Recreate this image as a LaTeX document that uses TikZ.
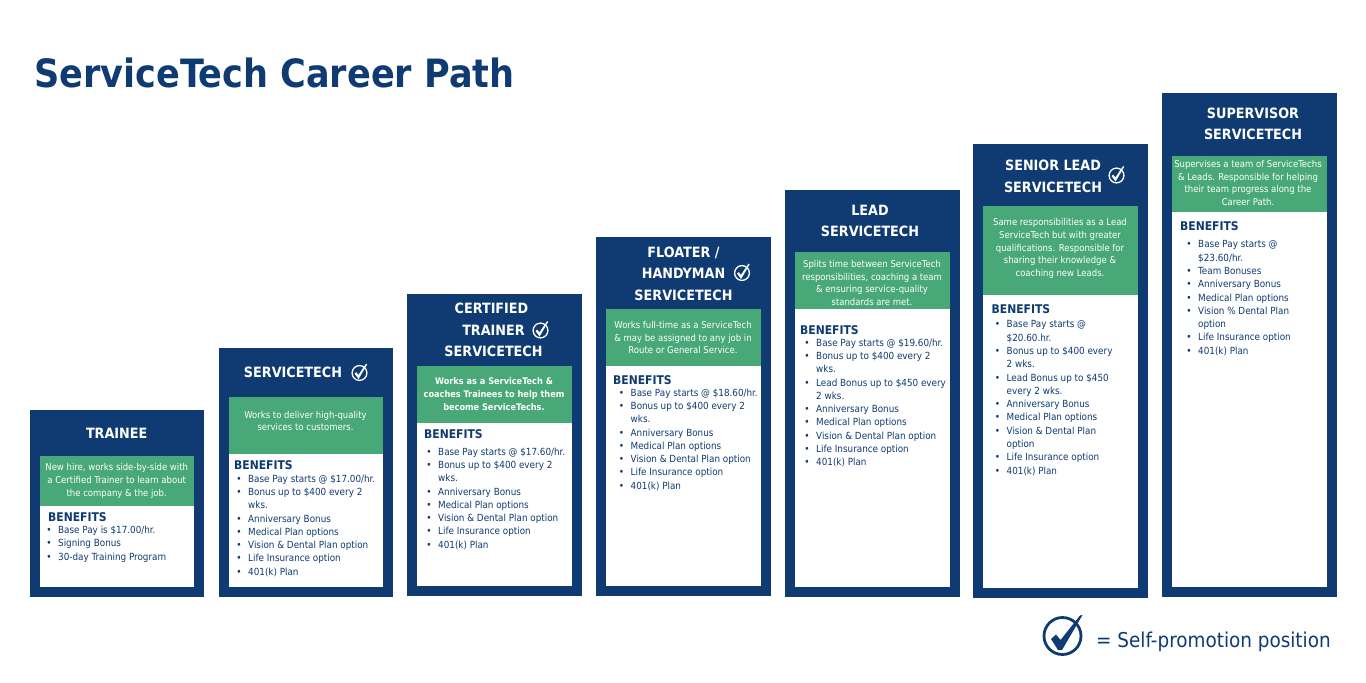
\documentclass[tikz,border=0pt]{standalone}
\usepackage{fontspec}
\setmainfont{DejaVu Sans Condensed}
\definecolor{navy}{HTML}{0F3B72}
\definecolor{leaf}{HTML}{48A878}
\tikzset{
  x=1pt,y=-1pt,
  headtext/.style={inner sep=0pt,text=white,align=center,font=\fontsize{14.2}{21.5}\bfseries\selectfont},
  desctext/.style={inner sep=0pt,text=white,align=center,font=\fontsize{9.45}{12.8}\selectfont},
  bentitle/.style={inner sep=0pt,anchor=west,text=navy,font=\fontsize{12}{14}\bfseries\selectfont},
  listtext/.style={inner sep=0pt,anchor=north west,text=navy,align=left,font=\fontsize{9.8}{13.3}\selectfont},
}
\newcommand{\bitem}[1]{\makebox[0pt][r]{\smash{\fontsize{10}{10}\selectfont\textbullet}\hspace{6.5pt}}#1\\}
\newcommand{\citem}[1]{#1\\}
% name, left x, top y, green top, green bottom, bottom y
\newcommand{\cardbox}[6]{
  \fill[navy] (#2,#3) rectangle ({#2+174.5},#6);
  \fill[white] ({#2+10},#5) rectangle ({#2+164.5},{#6-10});
  \fill[leaf] ({#2+10},#4) rectangle ({#2+164.5},#5);
}
% centre x, centre y
\newcommand{\checkmk}[2]{
  \draw[white,line width=1.3pt] (#1,#2) circle (7.4pt);
  \fill[white] ({#1-5},{#2+.5}) -- ({#1-3.2},{#2-.8}) -- ({#1-1.2},{#2+2}) -- ({#1+6.6},{#2-9.4}) -- ({#1+7.6},{#2-8.6}) -- ({#1-.9},{#2+6}) -- cycle;
}
\begin{document}
\begin{tikzpicture}
\useasboundingbox (0,0) rectangle (1366,683);
\node[inner sep=0pt,anchor=base west,text=navy,font=\fontsize{39}{39}\bfseries\selectfont] (title) at (34,87.5) {ServiceTech Career Path};

\cardbox{a}{29.5}{410}{456}{506}{597}
\cardbox{b}{218.5}{348}{397}{454}{597}
\cardbox{c}{407}{294}{366}{423}{596}
\cardbox{d}{596}{237}{309}{366}{596}
\cardbox{e}{785}{190}{252}{309}{597}
\cardbox{f}{973}{143.5}{206}{295}{597.5}
\cardbox{g}{1162}{93}{156}{212}{597}

\node[headtext] (ah) at (116.7,433) {TRAINEE};
\node[headtext] (bh) at (293,372.5) {SERVICETECH};
\node[headtext] (ch) at (493.5,330) {\hspace*{-4pt}CERTIFIED\\TRAINER\\SERVICETECH};
\node[headtext] (dh) at (683.5,273.5) {FLOATER /\\HANDYMAN\\SERVICETECH};
\node[headtext] (eh) at (870,221) {LEAD\\SERVICETECH};
\node[headtext] (fh) at (1053,176.5) {SENIOR LEAD\\SERVICETECH};
\node[headtext] (gh) at (1253,124) {SUPERVISOR\\SERVICETECH};

\checkmk{359.5}{373}
\checkmk{540.5}{330.5}
\checkmk{742}{273}
\checkmk{1116.5}{175.5}

\node[desctext] (ad) at (116.7,481) {New hire, works side-by-side with\\a Certified Trainer to learn about\\the company \& the job.};
\node[desctext] (bd) at (305.5,421) {Works to deliver high-quality\\services to customers.};
\node[desctext,font=\fontsize{9.1}{12.8}\bfseries\selectfont] (cd) at (494,394) {Works as a ServiceTech \&\\coaches Trainees to help them\\become ServiceTechs.};
\node[desctext] (dd) at (683,337.6) {Works full-time as a ServiceTech\\\& may be assigned to any job in\\Route or General Service.};
\node[desctext] (ed) at (872,283) {Splits time between ServiceTech\\responsibilities, coaching a team\\\& ensuring service-quality\\standards are met.};
\node[desctext] (fd) at (1060,248.5) {Same responsibilities as a Lead\\ServiceTech but with greater\\qualifications. Responsible for\\sharing their knowledge \&\\coaching new Leads.};
\node[desctext] (gd) at (1248,183) {Supervises a team of ServiceTechs\\\& Leads. Responsible for helping\\their team progress along the\\Career Path.};

\node[bentitle] (ab) at (48,517) {BENEFITS};
\node[bentitle] (bb) at (234,465) {BENEFITS};
\node[bentitle] (cb) at (424,434.5) {BENEFITS};
\node[bentitle] (db) at (613,380.5) {BENEFITS};
\node[bentitle] (eb) at (800,330) {BENEFITS};
\node[bentitle] (fb) at (991.5,309.5) {BENEFITS};
\node[bentitle] (gb) at (1180,226) {BENEFITS};

\node[listtext] (al) at (58,526) {\bitem{Base Pay is \$17.00/hr.}\bitem{Signing Bonus}\bitem{30-day Training Program}};
\node[listtext] (bl) at (248,474.5) {\bitem{Base Pay starts @ \$17.00/hr.}\bitem{Bonus up to \$400 every 2}\citem{wks.}\bitem{Anniversary Bonus}\bitem{Medical Plan options}\bitem{Vision \& Dental Plan option}\bitem{Life Insurance option}\bitem{401(k) Plan}};
\node[listtext] (cl) at (438,447.5) {\bitem{Base Pay starts @ \$17.60/hr.}\bitem{Bonus up to \$400 every 2}\citem{wks.}\bitem{Anniversary Bonus}\bitem{Medical Plan options}\bitem{Vision \& Dental Plan option}\bitem{Life Insurance option}\bitem{401(k) Plan}};
\node[listtext] (dl) at (630.5,388.5) {\bitem{Base Pay starts @ \$18.60/hr.}\bitem{Bonus up to \$400 every 2}\citem{wks.}\bitem{Anniversary Bonus}\bitem{Medical Plan options}\bitem{Vision \& Dental Plan option}\bitem{Life Insurance option}\bitem{401(k) Plan}};
\node[listtext] (el) at (816,338.5) {\bitem{Base Pay starts @ \$19.60/hr.}\bitem{Bonus up to \$400 every 2}\citem{wks.}\bitem{Lead Bonus up to \$450 every}\citem{2 wks.}\bitem{Anniversary Bonus}\bitem{Medical Plan options}\bitem{Vision \& Dental Plan option}\bitem{Life Insurance option}\bitem{401(k) Plan}};
\node[listtext] (fl) at (1006.5,320.5) {\bitem{Base Pay starts @}\citem{\$20.60.hr.}\bitem{Bonus up to \$400 every}\citem{2 wks.}\bitem{Lead Bonus up to \$450}\citem{every 2 wks.}\bitem{Anniversary Bonus}\bitem{Medical Plan options}\bitem{Vision \& Dental Plan}\citem{option}\bitem{Life Insurance option}\bitem{401(k) Plan}};
\node[listtext] (gl) at (1198,240.5) {\bitem{Base Pay starts @}\citem{\$23.60/hr.}\bitem{Team Bonuses}\bitem{Anniversary Bonus}\bitem{Medical Plan options}\bitem{Vision \% Dental Plan}\citem{option}\bitem{Life Insurance option}\bitem{401(k) Plan}};

% legend
\draw[navy,line width=2.8pt] (1062.5,636) circle (18.5pt);
\fill[navy] (1051,639) -- (1056,634.5) -- (1060.5,640) -- (1080,615.5) -- (1082.5,615) -- (1062,650) -- (1058,650) -- cycle;
\node[inner sep=0pt,anchor=base west,text=navy,font=\fontsize{20.45}{24}\selectfont] (lg) at (1096,647) {= Self-promotion position};
\end{tikzpicture}
\end{document}
